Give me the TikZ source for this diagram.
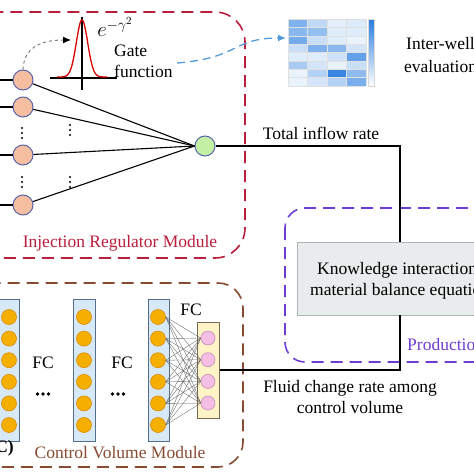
\documentclass[tikz,border=0pt]{standalone}
\usepackage{fontspec}
\setmainfont{Liberation Serif}
\usetikzlibrary{arrows.meta,calc}
\definecolor{injred}{RGB}{185,30,60}
\definecolor{cvbrown}{RGB}{135,75,50}
\definecolor{prodpurple}{RGB}{110,60,210}
\definecolor{linkblue}{RGB}{85,155,215}
\definecolor{hmblue}{RGB}{40,125,225}
\definecolor{nodeedge}{RGB}{90,100,170}
\definecolor{peach}{RGB}{245,190,160}
\definecolor{lgreen}{RGB}{195,240,165}
\definecolor{orangec}{RGB}{245,175,0}
\definecolor{orangee}{RGB}{220,140,0}
\definecolor{pinkc}{RGB}{245,190,228}
\definecolor{pinke}{RGB}{195,140,185}
\definecolor{colfill}{RGB}{215,232,246}
\definecolor{coledge}{RGB}{85,110,140}
\definecolor{yfill}{RGB}{255,244,200}
\definecolor{yedge}{RGB}{120,105,80}
\definecolor{kfill}{RGB}{232,236,236}
\definecolor{kedge}{RGB}{175,180,180}
\begin{document}
\begin{tikzpicture}[x=1pt,y=-1pt,
  lbl/.style={font=\fontsize{17.5}{21}\selectfont, inner sep=0pt},
  inode/.style={circle, draw=nodeedge, fill=peach, minimum size=20pt, inner sep=0pt, line width=1pt},
  gnode/.style={circle, draw=nodeedge, fill=lgreen, minimum size=20pt, inner sep=0pt, line width=1pt},
  onode/.style={circle, draw=orangee, fill=orangec, minimum size=15pt, inner sep=0pt, line width=0.6pt},
  pnode/.style={circle, draw=pinke, fill=pinkc, minimum size=14pt, inner sep=0pt, line width=0.6pt},
  colbox/.style={draw=coledge, fill=colfill, line width=1pt, minimum width=22pt, minimum height=142pt, inner sep=0pt},
  conn/.style={line width=1.1pt, black},
  fcline/.style={line width=0.35pt, black!60},
  moddash/.style={line width=1.6pt, dash pattern=on 12pt off 7pt}
]
\useasboundingbox (0,0) rectangle (474,474);
\clip (0,0) rectangle (474,474);

% module frames
\draw[moddash, injred, rounded corners=30pt] (-40,12) rectangle (245,258);
\draw[moddash, cvbrown, rounded corners=25pt] (-40,283) rectangle (243,467);

% knowledge box and production frame
\node[draw=kedge, fill=kfill, line width=0.8pt, minimum width=206pt, minimum height=73pt, inner sep=0pt] (kb) at (400,278.5) {};
\draw[moddash, prodpurple, rounded corners=20pt] (285,208) rectangle (540,362);
\node[lbl, anchor=west] (k1) at (317,270) {Knowledge interaction};
\node[lbl, anchor=west] (k2) at (310,291) {material balance equation};
\node[lbl, anchor=west, text=prodpurple] (prod) at (407,345) {Production};

% injection regulator nodes
\node[inode] (i1) at (23,80) {};
\node[inode] (i2) at (23,107) {};
\node[inode] (i3) at (23,155) {};
\node[inode] (i4) at (23,205) {};
\node[gnode] (g) at (205,146) {};
\foreach \k/\yy in {1/80,2/107,3/155,4/205}{
  \coordinate (a\k) at (0,\yy);
  \draw[conn] (a\k) -- (i\k);
  \draw[conn] (i\k) -- (g.west);
}
\foreach \xx/\yy in {22/133,70/130,22/182,70/182}
  \foreach \d in {-5,0,5}
    \fill (\xx,\yy+\d) circle (1.1pt);

% gate function sketch
\draw[line width=1.2pt] (50,78) -- (117,78);
\draw[line width=1.2pt] (82,17) -- (82,90);
\draw[red!85!black, line width=1.3pt, domain=-25:25, samples=80, smooth] plot ({82+\x},{77-57*exp(-(\x/8)^2)});
\node[font=\fontsize{21}{21}\selectfont, inner sep=0pt] (gam) at (115,27) {$e^{-\gamma^2}$};
\node[lbl, anchor=west, align=left] (gf) at (114,61) {Gate\\[0pt]function};
\draw[gray, line width=1pt, dashed, -{Latex[black,length=8pt,width=7pt]}] (i1.north) .. controls (24,48) and (40,40) .. (71,40);

% heatmap
\node[inner sep=0pt, minimum width=78pt, minimum height=67pt] (hm) at (327,52.5) {};
\foreach \row [count=\r] in {{60,30,12,16},{55,50,15,15},{65,25,15,10},{25,60,55,20},{15,15,22,72},{40,20,10,25},{10,35,92,52},{10,20,35,62}}{
  \foreach \v [count=\c] in \row {
    \fill[hmblue!\v!white] ({288+(\c-1)*19.5},{19+(\r-1)*8.375}) rectangle ++(19.5,8.375);
  }
}
\foreach \c in {0,...,4} \draw[line width=0.5pt, black!12] ({288+\c*19.5},19) -- ({288+\c*19.5},86);
\foreach \r in {0,...,8} \draw[line width=0.5pt, black!12] (288,{19+\r*8.375}) -- (366,{19+\r*8.375});
\shade[top color=hmblue, bottom color=white] (368,19) rectangle (374,86);
\draw[line width=0.4pt, black!15] (368,19) rectangle (374,86);
\coordinate (hmin) at (286,38);
\coordinate (gfout) at (177,63);
\draw[linkblue, line width=1.3pt, dash pattern=on 8pt off 5pt, -{Latex[length=8pt,width=7pt]}] (gfout) .. controls (240,58) and (232,38) .. (hmin);
\node[lbl, anchor=west] (iw1) at (406,44) {Inter-well};
\node[lbl, anchor=west] (iw2) at (404,67) {evaluation};

% total inflow
\node[lbl] (tir) at (321,133) {Total inflow rate};
\draw[conn] (g) -| (kb.north);

\node[lbl, text=injred] (irm) at (120,243) {Injection Regulator Module};

% control volume module
\node[colbox] (c1) at (8,370) {};
\node[colbox] (c2) at (84,370) {};
\node[colbox, minimum width=21pt] (c3) at (158.5,370) {};
\node[draw=yedge, fill=yfill, line width=1pt, minimum width=22pt, minimum height=96pt, inner sep=0pt] (yb) at (208,370) {};
\foreach \j in {1,...,6}{
  \node[onode] (oa\j) at (9,{317+(\j-1)*21.6}) {};
  \node[onode] (ob\j) at (84,{317+(\j-1)*21.6}) {};
  \node[onode] (oc\j) at (158,{317+(\j-1)*21.6}) {};
}
\foreach \j in {1,...,4}
  \node[pnode] (p\j) at (208,{338+(\j-1)*21.7}) {};
\foreach \j in {1,...,6}
  \foreach \k in {1,...,4}
    \draw[fcline] (oc\j.east) -- (p\k.west);

\node[lbl] (fc1) at (43,363) {FC};
\node[lbl] (fc2) at (122,363) {FC};
\node[lbl] (fc3) at (191,310) {FC};
\foreach \xx in {43,118}
  \foreach \d in {-5.5,0,5.5}
    \fill (\xx+\d,394) circle (1.8pt);
\node[lbl, anchor=east, font=\fontsize{17.5}{21}\selectfont\bfseries] (cl) at (14,448) {(C)};
\node[lbl, text=cvbrown] (cvm) at (120,453) {Control Volume Module};

\draw[conn] (kb.south) |- (yb.east);
\node[lbl, align=center] (fcr) at (350,397) {Fluid change rate among\\[0pt]control volume};
\end{tikzpicture}
\end{document}
